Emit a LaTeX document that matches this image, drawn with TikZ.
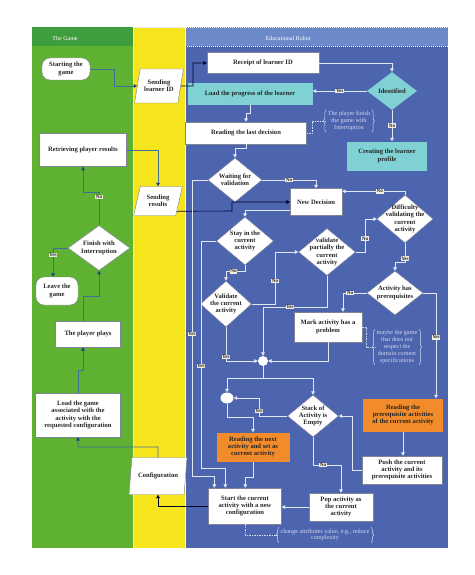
\documentclass[tikz,border=0pt]{standalone}
\usepackage{fontspec}
\setmainfont{Liberation Serif}
\usetikzlibrary{shapes.geometric,arrows.meta,calc,decorations.pathreplacing}
\definecolor{gamebg}{HTML}{5FB132}
\definecolor{gamehd}{HTML}{3E9E3E}
\definecolor{midbg}{HTML}{F6E41D}
\definecolor{robbg}{HTML}{4D64AF}
\definecolor{robhd}{HTML}{6C8AC9}
\definecolor{tealc}{HTML}{7FD1D3}
\definecolor{orgc}{HTML}{F28B2A}
\definecolor{edgec}{HTML}{7E8496}
\definecolor{inkc}{HTML}{262626}
\definecolor{lnc}{HTML}{E4E8F6}
\definecolor{lngc}{HTML}{3F6F9C}
\definecolor{tipg}{HTML}{1F3F8F}
\definecolor{notec}{HTML}{D3DAF0}
\definecolor{lblc}{HTML}{F1EEDF}
\tikzset{
  box/.style={rectangle,draw=edgec,fill=white,line width=0.45pt,align=center,
    inner sep=1pt,text=inkc,font=\fontsize{6.6}{7.3}\selectfont\bfseries},
  tbox/.style={box,fill=tealc,draw=none},
  obox/.style={box,fill=orgc,draw=none},
  term/.style={box,rounded corners=8pt},
  dia/.style={box,diamond,aspect=1.2,inner sep=-6pt},
  tdia/.style={dia,fill=tealc,draw=none},
  io/.style={box,trapezium,trapezium left angle=70,trapezium right angle=110,
    trapezium stretches=true,inner sep=0pt},
  sz/.style 2 args={minimum width=#1pt,minimum height=#2pt},
  jn/.style={ellipse,fill=white,draw=none,inner sep=0pt},
  ar/.style={-{Triangle[length=3.4pt,width=3.6pt]},draw=lnc,line width=0.6pt},
  arg/.style={-{Triangle[length=3.4pt,width=3.6pt,color=tipg]},draw=lngc,line width=0.6pt},
  ark/.style={-{Triangle[length=3.4pt,width=3.6pt]},draw=black!85!blue,line width=0.6pt},
  dsh/.style={draw=notec,dash pattern=on 1.5pt off 1pt,line width=0.5pt},
  lbl/.style={fill=lblc,text=inkc,inner sep=0.6pt,font=\fontsize{5.2}{6}\selectfont\bfseries},
  note/.style={text=notec,align=center,inner sep=1.5pt,font=\fontsize{6.2}{6.8}\selectfont},
  brc/.style={decorate,decoration={brace,amplitude=2.5pt},draw=notec,line width=0.5pt},
  lane/.style={draw=white,dash pattern=on 1pt off 1pt,line width=0.6pt},
  head/.style={text=white,font=\fontsize{6}{6.5}\selectfont},
}
\begin{document}
\begin{tikzpicture}[x=1pt,y=-1pt]
  \useasboundingbox (0,0) rectangle (474,575);
  % swim lanes
  \fill[gamebg] (32,27) rectangle (133,548);
  \fill[gamehd] (32,27) rectangle (133,46);
  \fill[midbg] (133,27) rectangle (185,548);
  \fill[robbg] (185,27) rectangle (448,548);
  \fill[robhd] (185,27) rectangle (448,46);
  \draw[lane] (133,27) rectangle (185,548);
  \draw[lane] (185,27) rectangle (448,548);
  \draw[lane] (185,46) -- (448,46);
  \node[head] (ghd) at (65,38.5) {The Game};
  \node[head] (rhd) at (288,38.5) {Educational Robot};
  % the game
  \node[term,sz={48}{22}] (start) at (66,69) {Starting the\\game};
  \node[box,sz={87}{33}] (retr) at (83,150) {Retrieving player results};
  \node[dia,sz={62}{45}] (fin) at (99,248) {Finish with\\Interruption};
  \node[term,sz={42}{28}] (leave) at (57,291) {Leave the\\game};
  \node[box,sz={65}{26}] (play) at (88,334) {The player plays};
  \node[box,sz={85}{44}] (load) at (78,415) {Load the game\\associated with the\\activity with the\\requested configuration};
  % exchange lane
  \node[io,sz={49}{34}] (slid) at (159,86) {Sending\\learner ID};
  \node[io,sz={49}{29}] (sres) at (158,201) {Sending\\results};
  \node[io,sz={58}{37}] (cfg) at (158,476) {Configuration};
  % educational robot
  \node[box,sz={112}{21}] (rcpt) at (263,63) {Receipt of learner ID};
  \node[tdia,sz={50}{38}] (idf) at (392,91) {Identified};
  \node[tbox,sz={125}{22}] (lprog) at (250,94) {Load the progress of the learner};
  \node[box,sz={121}{22}] (rdec) at (246,133) {Reading the last decision};
  \node[note] (note1) at (349,121) {The player finish\\the game with\\Interruption};
  \node[tbox,sz={80}{29}] (prof) at (387,156) {Creating the learner\\profile};
  \node[dia,sz={54}{44}] (wait) at (235,180) {Waiting for\\validation};
  \node[box,sz={52}{27}] (ndec) at (316,202) {New Decision};
  \node[dia,sz={56}{48}] (dif) at (405,219) {Difficulty\\validating the\\current\\activity};
  \node[dia,sz={57}{48}] (stay) at (245,241) {Stay in the\\current\\activity};
  \node[dia,sz={57}{47}] (vpar) at (327,252) {validate\\partially the\\current\\activity};
  \node[dia,sz={51}{46}] (val) at (226,304) {Validate\\the current\\activity};
  \node[dia,sz={56}{44}] (act) at (395,293) {Activity has\\prerequisites};
  \node[box,sz={68}{30}] (mark) at (328,327) {Mark activity has a\\problem};
  \node[note] (note2) at (397,347) {maybe the game\\that does not\\respect the\\domain content\\specifications};
  \node[jn,sz={10}{10}] (j1) at (263,361) {};
  \node[jn,sz={13}{11}] (j2) at (227,398) {};
  \node[dia,sz={51}{42}] (stk) at (313,416) {Stack of\\Activity is\\Empty};
  \node[obox,sz={80}{33}] (rpre) at (403,415) {Reading the\\prerequisite activities\\of the current activity};
  \node[obox,sz={73}{29}] (rnext) at (253,447) {Reading the next\\activity and set as\\current activity};
  \node[box,sz={80}{28}] (push) at (402,470) {Push the current\\activity and its\\prerequisite activities};
  \node[box,sz={64}{28}] (pop) at (341,507) {Pop activity as\\the current\\activity};
  \node[box,sz={73}{36}] (strt) at (245,506) {Start the current\\activity with a new\\configuration};
  \node[note] (note3) at (325,535) {change attributes value, e.g., reduce\\complexity};
  % connectors, game side
  \draw[arg] (start.east) -- (114,69) |- (slid.west);
  \draw[ark] (slid.east) -- (193,86) |- (rcpt.west);
  \draw[arg] (retr.east) -| (sres.north);
  \draw[ark] ($(sres.east)!0.7!(sres.bottom right corner)$) -- (232,211) |- (ndec.west);
  \draw[arg] (fin.north) -- node[lbl,pos=0.85]{No} (99,192) -| (retr.south);
  \draw[arg] (fin.west) -| node[lbl,pos=0.62]{Yes} ($(leave.north)+(-4,0)$);
  \draw[arg] ($(play.north)+(-5,0)$) -- (83,296) -| (fin.south);
  \draw[arg] (load.north) -- (78,370) -| ($(play.south)+(-5,0)$);
  \draw[arg] (cfg.north) -- (158,447) -| (load.south);
  \draw[ark] (strt.west) -| (cfg.south);
  % connectors, robot side
  \draw[ar] (rcpt.east) -| (idf.north);
  \draw[ar] (idf.west) -- node[lbl]{Yes} (idf.west -| lprog.east);
  \draw[ar] (idf.south) -- node[lbl]{No} (idf.south |- prof.north);
  \draw[ar] (lprog.south) -- ++(0,8) -| (rdec.north);
  \draw[ar] (rdec.south) -- ++(0,4) -| (wait.north);
  \draw[ar] (wait.east) -| node[lbl,pos=0.25]{No} (ndec.north);
  \draw[ar] (wait.west) -- (192,180) -- node[lbl,pos=0.52]{Yes} (192,476) -| ($(strt.north west)+(6,0)$);
  \draw[ar] ($(ndec.west)+(0,8)$) -| (stay.north);
  \draw[ar] (stay.west) -- (201,241) -- node[lbl,pos=0.55]{Yes} (201,468) -| ($(strt.north west)+(17,0)$);
  \draw[ar] (stay.south) -- ++(0,6) -| node[lbl,pos=0.3]{No} (val.north);
  \draw[ar] (val.east) -| node[lbl,pos=0.72]{No} (275,252) -- (vpar.west);
  \draw[ar] (val.south) |- node[lbl,pos=0.44]{Yes} (j1.west);
  \draw[ar] (vpar.east) -- (365,252) |- node[lbl,pos=0.2]{No} (dif.west);
  \draw[ar] (vpar.south) -- (327,307) -| node[lbl,pos=0.29]{Yes} (j1.north);
  \draw[ar] (dif.north) |- node[lbl,pos=0.7]{No} ($(ndec.north east)+(0,3)$);
  \draw[ar] (dif.south) -- node[lbl,pos=0.8]{Yes} ++(0,19) -| (act.north);
  \draw[ar] (act.west) -| node[lbl,pos=0.35]{No} ($(mark.north)+(15,0)$);
  \draw[ar] (act.east) -| node[lbl,pos=0.71]{Yes} ($(rpre.north)+(33,0)$);
  \draw[ar] (mark.south) |- (j1.east);
  \coordinate (split) at (263,378);
  \draw[lnc,line width=0.6pt] (j1.south) -- (split);
  \draw[ar] (split) -| (j2.north);
  \draw[ar] (split) -| (stk.north);
  \draw[ar] (stk.west) -| node[lbl,pos=0.64]{Yes} (259,398) -- (j2.east);
  \draw[ar] (j2.south) -- (227,417) -| (rnext.north);
  \draw[ar] (rnext.south) -- (253,477) -| ($(strt.north west)+(37,0)$);
  \draw[ar] (rpre.south) -- (rpre.south |- push.north);
  \draw[ar] (push.west) -- (352,470) |- (stk.east);
  \draw[ar] (stk.south) -- (313,465) -| node[lbl,pos=0.18]{No} (pop.north);
  \draw[ar] (pop.west) -- (pop.west -| strt.east);
  % notes
  \draw[dsh] (rdec.east) -- ++(6,0) |- (note1.west);
  \draw[dsh] (mark.east) -- ++(4,0) |- (note2.west);
  \draw[dsh] (strt.south) |- (note3.west);
  \foreach \n in {note1,note2,note3}{
    \draw[brc] (\n.south west) -- (\n.north west);
    \draw[brc] (\n.north east) -- (\n.south east);
  }
\end{tikzpicture}
\end{document}
